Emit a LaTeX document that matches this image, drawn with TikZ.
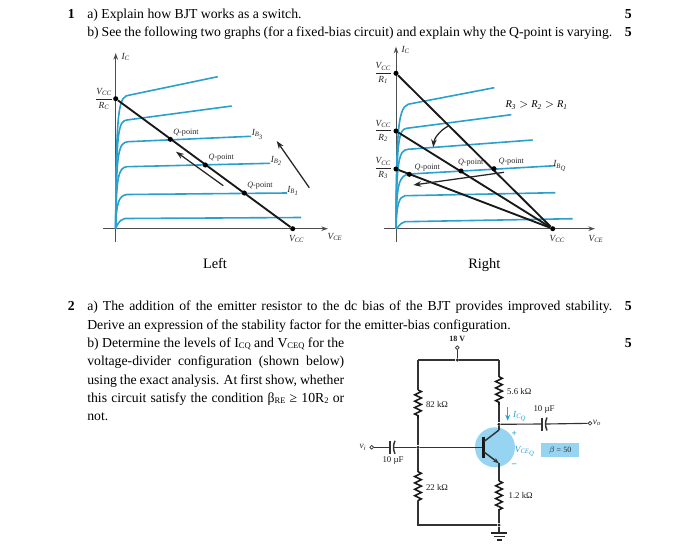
\documentclass[tikz,border=0pt]{standalone}
\usepackage{fontspec}
\setmainfont{Liberation Serif}
\usepackage{tikz}
\usetikzlibrary{positioning,arrows,arrows.meta,decorations.pathmorphing,shapes.geometric,calc}
\definecolor{icblue}{RGB}{42,160,205}
\definecolor{discblue}{RGB}{150,212,242}
\tikzstyle{qline} = [anchor=base west, inner sep=0pt, font=\fontsize{10.3}{12}\selectfont]
\tikzstyle{qmark} = [anchor=base east, inner sep=0pt, font=\fontsize{10.3}{12}\selectfont\bfseries]
\tikzstyle{graphname} = [inner sep=0pt, font=\fontsize{10.8}{13}\selectfont]
\tikzstyle{gtext} = [inner sep=0pt, font=\fontsize{6.1}{7}\selectfont, text=black!85]
\tikzstyle{gmath} = [inner sep=0pt, font=\fontsize{7}{8}\selectfont, text=black!85]
\tikzstyle{ctext} = [inner sep=0pt, font=\fontsize{6.6}{8}\selectfont, text=black!90]
\tikzstyle{axisline} = [draw, black!70, line width=.75pt]
\tikzstyle{axhead} = [-{Stealth[length=5pt,width=3.4pt]}]
\tikzstyle{iccurve} = [draw, icblue, line width=1.2pt]
\tikzstyle{loadline} = [draw, black!90, line width=1.4pt]
\tikzstyle{qdot} = [circle, fill=black, inner sep=0pt, minimum size=3.8pt]
\tikzstyle{jdot} = [circle, fill=black!85, inner sep=0pt, minimum size=2.6pt]
\tikzstyle{tdot} = [circle, draw=black!75, fill=white, semithick, inner sep=0pt, minimum size=2.8pt]
\tikzstyle{glink} = [draw, black!85, line width=.95pt, -{Stealth[length=6pt,width=4.2pt]}]
\tikzstyle{wire} = [draw, black!80, line width=.85pt]
\tikzstyle{rzig} = [draw, black!90, line width=1.15pt, decorate, decoration={zigzag, segment length=4.8pt, amplitude=2.5pt}]
\newcommand{\fitline}[2]{\makebox[#1pt][s]{#2}}
\newcommand{\lowsub}[1]{\raisebox{-1pt}{\fontsize{6.4}{7}\selectfont #1}}
\newcommand{\gfrac}[1]{$\displaystyle\frac{\mathit{V_{CC}}}{\mathit{#1}}$}
\newcommand{\vcap}[3]{% #1: name; #2,#3: centre
  \coordinate (#1-a) at (#2-2,#3);
  \coordinate (#1-b) at (#2+2,#3);
  \draw[wire, line width=1.1pt] (#2-2,#3-6.5) -- (#2-2,#3+6.5);
  \draw[wire, line width=1.1pt] (#2+3,#3-6.5) .. controls (#2+1,#3-2) and (#2+1,#3+2) .. (#2+3,#3+6.5);
}
\begin{document}
\begin{tikzpicture}[x=0.75pt, y=-0.75pt]
        \useasboundingbox (0,0) rectangle (700,554);
        % question text
        \node[qmark] (n1) at (75,18) {1};
        \node[qline] (l1) at (87,18) {a) Explain how BJT works as a switch.};
        \node[qline] (l2) at (87,36) {\fitline{393.75}{b) See the following two graphs (for a fixed-bias circuit) and explain why the Q-point is varying.}};
        \node[qmark] (m1) at (632,18) {5};
        \node[qmark] (m2) at (632,36) {5};
        \node[qmark] (n2) at (75,310) {2};
        \node[qline] (l3) at (87,310) {\fitline{393.75}{a) The addition of the emitter resistor to the dc bias of the BJT provides improved stability.}};
        \node[qline] (l4) at (87,329) {Derive an expression of the stability factor for the emitter-bias configuration.};
        \node[qline] (l5) at (87,347) {\fitline{192.75}{b) Determine the levels of I\lowsub{CQ} and V\lowsub{CEQ} for the}};
        \node[qline] (l6) at (87,365) {\fitline{192.75}{voltage-divider configuration (shown below)}};
        \node[qline] (l7) at (87,384) {\fitline{192.75}{using the exact analysis. At first show, whether}};
        \node[qline] (l8) at (87,402) {\fitline{192.75}{this circuit satisfy the condition β\lowsub{RE} ≥ 10R\lowsub{2} or}};
        \node[qline] (l9) at (87,420) {not.};
        \node[qmark] (m3) at (632,310) {5};
        \node[qmark] (m4) at (632,347) {5};
        % left graph
        \draw[axisline, axhead] (115.7,241.7) -- (115.7,53);
        \draw[axisline, axhead] (102.7,228.7) -- (328,228.7);
        \foreach \kx/\ky/\ex/\ey in {125/218.5/301/217.5, 127/194.5/287/193, 127/166.7/270/163.3, 128/141.7/251/136.3, 127/120/231.7/106, 130/95/217.7/76.7}
          \draw[iccurve] (115.7,228.7) .. controls (116.2,\ky+9) and (118.5,\ky+1) .. (\kx,\ky) -- (\ex,\ey);
        \node[qdot] (la) at (115.7,98.7) {};
        \node[qdot] (lb) at (292.7,228.7) {};
        \draw[loadline] (la) -- (lb);
        \node[qdot] (lq1) at (170.3,139.3) {};
        \node[qdot] (lq2) at (205.3,165) {};
        \node[qdot] (lq3) at (244.3,193) {};
        \coordinate (lu1) at (223.3,185.7);
        \coordinate (lu2) at (176,151.7);
        \coordinate (lv1) at (309.3,187.7);
        \coordinate (lv2) at (276.7,141);
        \draw[glink] (lu1) -- (lu2);
        \draw[glink] (lv1) -- (lv2);
        \node[gmath] (lic) at (125.7,57.3) {$\mathit{I_C}$};
        \node[gmath] (lr) at (104,99) {\gfrac{R_C}};
        \node[gtext] (lt1) at (186,132.3) {\textit{Q}-point};
        \node[gtext] (lt2) at (221.3,157.3) {\textit{Q}-point};
        \node[gtext] (lt3) at (260,185.7) {\textit{Q}-point};
        \node[gmath] (lb3) at (257.7,134.3) {$\mathit{I_{B_3}}$};
        \node[gmath] (lb2) at (276.7,160.7) {$\mathit{I_{B_2}}$};
        \node[gmath] (lb1) at (293.3,190.7) {$\mathit{I_{B_1}}$};
        \node[gmath] (lvc) at (296.7,239) {$\mathit{V_{CC}}$};
        \node[gmath] (lve) at (335,237) {$\mathit{V_{CE}}$};
        \node[graphname] (left) at (215,263.3) {Left};
        % right graph
        \draw[axisline, axhead] (396,241.7) -- (396,46.7);
        \draw[axisline, axhead] (384,228.7) -- (595,228.7);
        \foreach \kx/\ky/\ex/\ey in {405/221.7/572.7/218.7, 405/195.7/555.3/192.7, 410/174/555.3/165.7, 408/149.3/532.7/140, 406.7/128.3/511.3/114.7, 413/103.3/494.3/87.7}
          \draw[iccurve] (396,228.7) .. controls (396.5,\ky+9) and (399,\ky+1) .. (\kx,\ky) -- (\ex,\ey);
        \node[qdot] (rv) at (552.7,228.7) {};
        \node[qdot] (ra) at (396,73.3) {};
        \node[qdot] (rb) at (396,131) {};
        \node[qdot] (rc) at (396,169) {};
        \foreach \x in {a,b,c} { \draw[loadline] (r\x) -- (rv); }
        \node[qdot] (rq1) at (409.3,174.3) {};
        \node[qdot] (rq2) at (461,171) {};
        \node[qdot] (rq3) at (494,168.7) {};
        \coordinate (ru1) at (504,172.3);
        \coordinate (ru2) at (413.3,185);
        \coordinate (rw1) at (448.3,126);
        \coordinate (rw2) at (433.3,147.3);
        \draw[glink] (ru1) -- (ru2);
        \draw[glink] (rw1) .. controls (439,131) and (434,139) .. (rw2);
        \node[gmath] (ric) at (405.7,50) {$\mathit{I_C}$};
        \node[gmath] (rf1) at (383.3,73.3) {\gfrac{R_1}};
        \node[gmath] (rf2) at (383.3,130.7) {\gfrac{R_2}};
        \node[gmath] (rf3) at (383.3,168.3) {\gfrac{R_3}};
        \node[gtext] (rt1) at (427.3,167.3) {\textit{Q}-point};
        \node[gtext] (rt2) at (470.7,162.3) {\textit{Q}-point};
        \node[gtext] (rt3) at (511.3,161.7) {\textit{Q}-point};
        \node[gmath] (rbq) at (560,166) {$\mathit{I_{B_Q}}$};
        \node[gmath] (rvc) at (557.3,239) {$\mathit{V_{CC}}$};
        \node[gmath] (rve) at (596,239) {$\mathit{V_{CE}}$};
        \node[inner sep=0pt, font=\fontsize{7.8}{10}\selectfont] (rineq) at (536.7,105) {$\mathit{R_3 > R_2 > R_1}$};
        \node[graphname] (right) at (484.3,265) {Right};
        % circuit
        \node[circle, fill=discblue, inner sep=0pt, minimum size=30pt] (disc) at (495,447.3) {};
        \node[fill=discblue, inner sep=0pt, minimum width=29pt, minimum height=10.5pt] (betabox) at (560,450.3) {};
        \node[gmath, font=\fontsize{6}{7}\selectfont] (betatxt) at (560,450.3) {$\beta$ = 50};
        \node[tdot] (vcc) at (457.3,347.7) {};
        \node[ctext, font=\fontsize{6}{7}\selectfont\bfseries] (vcctxt) at (457.3,339.3) {18 V};
        \node[jdot] (jt) at (457.3,360) {};
        \coordinate (tl) at (418,360);
        \coordinate (tr) at (499,360);
        \node[jdot] (jb) at (418,447.3) {};
        \node[jdot] (jc) at (499,424.3) {};
        \node[jdot] (je) at (499,525) {};
        \coordinate (bl) at (418,525);
        \coordinate (gnd) at (499,533);
        \coordinate (c1a) at (499,376.7);
        \coordinate (c1b) at (499,405);
        \coordinate (e1a) at (499,481);
        \coordinate (e1b) at (499,510);
        \coordinate (b1a) at (418,390);
        \coordinate (b1b) at (418,418.3);
        \coordinate (b2a) at (418,471.7);
        \coordinate (b2b) at (418,500.7);
        \coordinate (bar) at (483.5,447.3);
        \coordinate (tcol) at (499,430);
        \coordinate (temi) at (499,463.3);
        \coordinate (bcol) at (484,441.5);
        \coordinate (bemi) at (484,452);
        \node[tdot] (vin) at (371.7,447.3) {};
        \node[tdot] (vout) at (590,423.3) {};
        \vcap{ci}{392}{447.3}
        \vcap{co}{544}{424}
        \draw[wire] (vcc) -- (jt);
        \draw[wire] (tl) -- (jt) -- (tr);
        \draw[wire] (tl) -- (b1a);
        \draw[wire] (b1b) -- (jb) -- (b2a);
        \draw[wire] (b2b) -- (bl) -- (je) -- (gnd);
        \draw[wire] (tr) -- (c1a);
        \draw[wire] (c1b) -- (jc) -- (tcol);
        \draw[wire] (temi) -- (e1a);
        \draw[wire] (e1b) -- (je);
        \draw[rzig] (c1a) -- (c1b);
        \draw[rzig] (e1a) -- (e1b);
        \draw[rzig] (b1a) -- (b1b);
        \draw[rzig] (b2a) -- (b2b);
        \draw[wire] (vin) -- (ci-a);
        \draw[wire] (ci-b) -- (jb) -- (bar);
        \draw[wire] (jc) -- (co-a);
        \draw[wire] (co-b) -- (vout);
        \draw[black!90, line width=1.7pt] (483.5,436.7) -- (483.5,458.3);
        \draw[wire, line width=1.1pt] (bcol) -- (tcol);
        \draw[wire, line width=1.1pt, -{Stealth[length=4.5pt,width=3.4pt]}] (bemi) -- (temi);
        \draw[black!85, line width=1pt] (491,533) -- (507,533);
        \draw[black!85, line width=1pt] (493.5,536.5) -- (504.5,536.5);
        \draw[black!85, line width=1pt] (496.5,540) -- (501.5,540);
        \coordinate (ia) at (507.7,407);
        \coordinate (ib) at (507.7,420.7);
        \draw[icblue, line width=.9pt, -{Stealth[length=4.5pt,width=3.6pt]}] (ia) -- (ib);
        \node[ctext] (t56) at (519.3,391.7) {5.6 kΩ};
        \node[ctext] (t82) at (437,404.3) {82 kΩ};
        \node[ctext] (t22) at (437,487.7) {22 kΩ};
        \node[ctext] (t12) at (520.7,496) {1.2 kΩ};
        \node[ctext] (tci) at (393,461) {10 µF};
        \node[ctext] (tco) at (544,410) {10 µF};
        \node[gmath] (tvi) at (363,447.3) {$\mathit{v_i}$};
        \node[gmath] (tvo) at (597,423) {$\mathit{v_o}$};
        \node[gmath, text=icblue] (tic) at (520,416.7) {$\mathit{I_{C_Q}}$};
        \node[gmath, text=icblue] (tp) at (514.3,434) {\textbf{+}};
        \node[gmath, text=icblue] (tv) at (525,451.7) {$\mathit{V_{CE_Q}}$};
        \node[gmath, text=icblue] (tm) at (514.3,465) {\textbf{--}};
\end{tikzpicture}
\end{document}
